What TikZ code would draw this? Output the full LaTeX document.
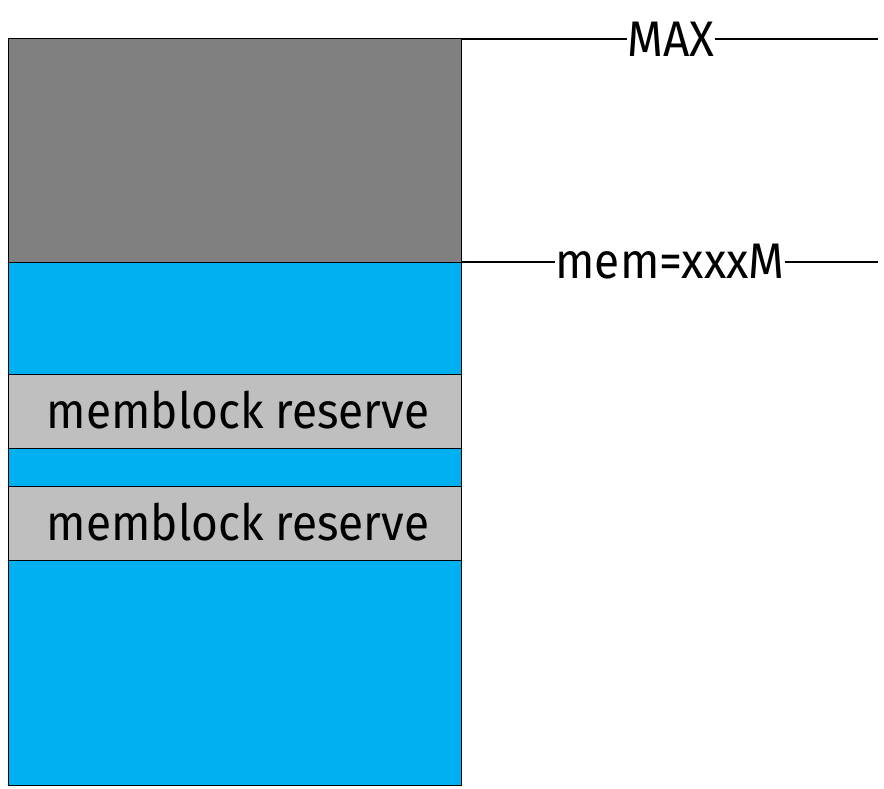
\documentclass[tikz,border=0pt]{standalone}
\usepackage{fontspec}
\setmainfont{Fira Sans}
\definecolor{blu}{HTML}{00B0F0}
\definecolor{dg}{HTML}{808080}
\definecolor{lg}{HTML}{BFBFBF}
\begin{document}
\begin{tikzpicture}[x=1pt,y=-1pt,
  lbl/.style={font=\fontsize{50}{50}\selectfont,inner sep=0pt,text=black},
  blk/.style={draw=black,line width=0.8pt}]
\useasboundingbox (0,0) rectangle (884,789);
\fill[blu] (8,262) rectangle (461,785);
\fill[dg] (8,38) rectangle (461,262);
\draw[blk] (8,38) rectangle (461,785);
\draw[blk] (8,262) -- (461,262);
\node[blk,fill=lg,minimum width=453pt,minimum height=74pt,anchor=north west,inner sep=0pt] (r1) at (8,374) {};
\node[blk,fill=lg,minimum width=453pt,minimum height=74pt,anchor=north west,inner sep=0pt] (r2) at (8,486) {};
\node[lbl] (t1) at (238,410) {\scalebox{0.92}[1]{memblock reserve}};
\node[lbl] (t2) at (238,522) {\scalebox{0.92}[1]{memblock reserve}};
\coordinate (a0) at (461,39); \coordinate (a1) at (878,39);
\coordinate (b0) at (461,262); \coordinate (b1) at (878,262);
\node[lbl] (max) at (671,39) {\scalebox{0.92}[1]{MAX}};
\node[lbl] (mem) at (670,262) {\scalebox{0.92}[1]{mem=xxxM}};
\draw[line width=2.5pt] (a0) -- (max.west) (max.east) -- (a1);
\draw[line width=2.5pt] (b0) -- (mem.west) (mem.east) -- (b1);
\end{tikzpicture}
\end{document}
